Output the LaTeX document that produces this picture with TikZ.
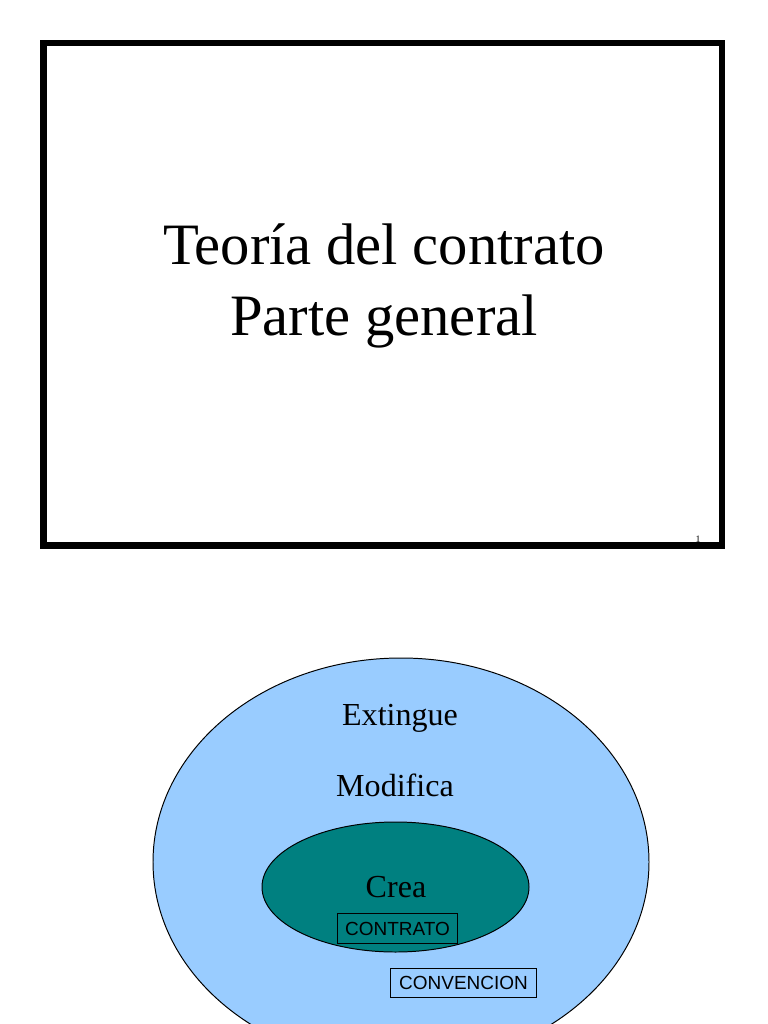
\documentclass[tikz,border=0pt]{standalone}
\usepackage{fontspec}
\setmainfont{Liberation Serif}
\newfontfamily\arialfont{Liberation Sans}
\definecolor{skyfill}{HTML}{99CCFF}
\definecolor{tealfill}{HTML}{008080}

\begin{document}
\begin{tikzpicture}[x=0.025cm, y=-0.025cm,
    word/.style={anchor=base, font=\fontsize{22.8}{26}\selectfont},
    tag/.style={draw, line width=0.7pt, font=\arialfont\fontsize{13.5}{15}\selectfont, inner sep=0pt}]
      \clip (0, 0) rectangle (768, 1024);
      % Draw the slide frame
      \draw[line width=4.3pt] (43.5, 43) rectangle (722, 545.5);
      \node[anchor=base, font=\fontsize{41.7}{49}\selectfont] (t1) at (384, 265) {Teoría del contrato};
      \node[anchor=base, font=\fontsize{41.7}{49}\selectfont] (t2) at (384, 335) {Parte general};
      \node[anchor=base, font=\fontsize{7}{8}\selectfont] (pg) at (698, 542) {1};
      % Draw the ellipses
      \draw[line width=0.7pt, fill=skyfill] (401, 862) ellipse [x radius=248, y radius=204];
      \draw[line width=0.7pt, fill=tealfill] (395.5, 887) ellipse [x radius=133.5, y radius=65];
      % Draw the words
      \node[word] (ext) at (400, 725) {Extingue};
      \node[word] (mod) at (395, 796) {Modifica};
      \node[word] (crea) at (396, 897) {Crea};
      % Draw the boxes
      \node[tag, minimum width=86pt, minimum height=22pt] (ctr) at (397.5, 928.5) {CONTRATO};
      \node[tag, minimum width=104.5pt, minimum height=21.3pt] (cnv) at (463.5, 983) {CONVENCION};
\end{tikzpicture}
\end{document}
